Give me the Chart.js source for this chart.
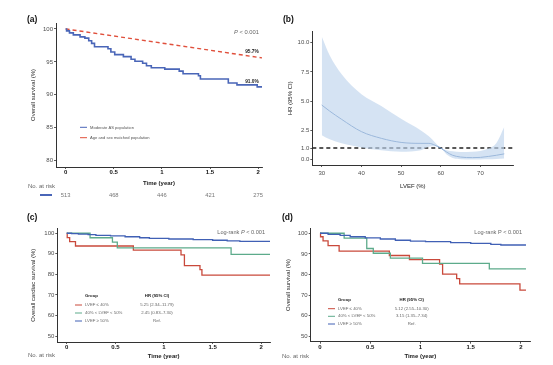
<!DOCTYPE html>
<html><head><meta charset="utf-8">
<script src="https://cdn.jsdelivr.net/npm/chart.js@4.4.1/dist/chart.umd.min.js"></script>
<style>
html,body{margin:0;padding:0;background:#fff;width:553px;height:365px;overflow:hidden}
canvas{position:absolute}
</style></head><body>
<canvas id="ca" width="276" height="200" style="left:0;top:0"></canvas>
<canvas id="cb" width="277" height="200" style="left:276px;top:0"></canvas>
<canvas id="cc" width="276" height="165" style="left:0;top:200px"></canvas>
<canvas id="cd" width="277" height="165" style="left:276px;top:200px"></canvas>
<script>
// ---------- DATA ----------
const timeTicks = [0, 0.5, 1, 1.5, 2];
const timeTickLabels = ['0', '0.5', '1', '1.5', '2'];

// (a)
const aYTicks = [80, 85, 90, 95, 100];
const aModerateT = [0, 0.01, 0.04, 0.08, 0.15, 0.2, 0.24, 0.27, 0.30, 0.44, 0.47, 0.51, 0.60, 0.68, 0.72, 0.80, 0.84, 0.89, 1.03, 1.18, 1.22, 1.38, 1.40, 1.69, 1.78, 1.99, 2.04];
const aModerateS = [100, 99.7, 99.4, 99.1, 98.8, 98.6, 98.2, 97.8, 97.3, 97.0, 96.5, 96.1, 95.8, 95.4, 95.1, 94.8, 94.4, 94.1, 93.9, 93.6, 93.2, 92.9, 92.4, 91.8, 91.5, 91.2, 91.2];
const aMatchedT = [0, 1, 2.04];
const aMatchedS = [100, 97.85, 95.6];
const aRiskCounts = [513, 468, 446, 421, 275];
const aSeriesNames = ['Moderate AS population', 'Age and sex matched population'];

// (b)
const lvef    = [30, 32, 35, 40, 45, 50, 55, 57, 58.5, 60, 61.5, 63, 65, 68, 70, 72, 74, 76];
const hr      = [4.67, 4.15, 3.45, 2.4, 1.83, 1.48, 1.4, 1.4, 1.25, 1.0, 0.65, 0.38, 0.23, 0.18, 0.2, 0.28, 0.38, 0.5];
const hrUpper = [10.5, 8.9, 7.3, 5.6, 4.6, 3.5, 2.5, 2.0, 1.5, 1.0, 0.82, 0.72, 0.66, 0.68, 0.75, 0.95, 1.4, 2.8];
const hrLower = [2.1, 1.75, 1.4, 1.05, 0.8, 0.68, 0.8, 1.1, 1.15, 1.0, 0.45, 0.15, 0.05, 0.03, 0.03, 0.04, 0.06, 0.1];
const bXTicks = [30, 40, 50, 60, 70];
const bYTicks = [0, 1, 2.5, 5, 7.5, 10];
const bYTickLabels = ['0.0', '1.0', '2.5', '5.0', '7.5', '10.0'];

// (c) and (d)
const survTicks = [50, 60, 70, 80, 90, 100];
const groupLabels = ['LVEF \u2264 40%', '40% < LVEF < 50%', 'LVEF \u2265 50%'];
const cLowT  = [0, 0.005, 0.03, 0.09, 0.685, 1.175, 1.21, 1.37, 1.39, 2.09];
const cLowS  = [100, 97.9, 95.9, 93.8, 91.8, 89.5, 84.2, 82.3, 79.6, 79.6];
const cMidT  = [0, 0.24, 0.47, 0.52, 1.69, 2.09];
const cMidS  = [100, 97.8, 95.7, 92.9, 89.7, 89.7];
const cHighT = [0, 0.05, 0.12, 0.22, 0.3, 0.45, 0.6, 0.75, 0.85, 1.05, 1.3, 1.5, 1.65, 1.78, 2.09];
const cHighS = [100, 99.8, 99.6, 99.3, 99.0, 98.7, 98.3, 97.8, 97.5, 97.2, 96.9, 96.6, 96.3, 96.0, 96.0];
const cHR = ['5.25 (2.34\u201311.79)', '2.45 (0.83\u20137.30)', 'Ref.'];

const dLowT  = [0, 0.005, 0.03, 0.08, 0.19, 0.69, 0.89, 1.19, 1.22, 1.36, 1.39, 1.99, 2.05];
const dLowS  = [100, 98.3, 96.3, 94.0, 91.3, 89.2, 87.2, 85.0, 80.2, 78.0, 75.4, 72.4, 72.4];
const dMidT  = [0, 0.24, 0.465, 0.53, 0.70, 1.02, 1.685, 2.05];
const dMidS  = [100, 97.6, 92.6, 90.3, 87.9, 85.4, 82.7, 82.7];
const dHighT = [0, 0.08, 0.2, 0.3, 0.45, 0.6, 0.75, 0.9, 1.05, 1.3, 1.5, 1.7, 1.8, 2.05];
const dHighS = [100, 99.5, 99.0, 98.3, 97.8, 97.2, 96.6, 96.2, 95.9, 95.5, 95.1, 94.6, 94.3, 94.3];
const dHR = ['5.12 (2.55\u201310.30)', '3.15 (1.35\u20137.34)', 'Ref.'];

// ---------- STYLE ----------
const FF = "'Liberation Sans', Arial, Helvetica, sans-serif";
Chart.defaults.font.family = FF;
const RED = '#c9493b', GREEN = '#5dab8b', BLUE = '#4060b5';
const pts = (t, s) => t.map((x, i) => ({x: x, y: s[i]}));

function scale(o) {
  return {
    type: 'linear', min: o.min, max: o.max,
    afterBuildTicks: s => { s.ticks = o.ticks.map(v => ({value: v})); },
    afterFit: s => { if (o.width != null) s.width = o.width; if (o.height != null) s.height = o.height; },
    ticks: {
      autoSkip: false, maxRotation: 0, minRotation: 0, padding: o.tpad != null ? o.tpad : 1,
      color: o.tcolor || '#4d4d4d', font: o.tfont || {size: 6},
      callback: (v, i) => o.labels ? o.labels[i] : String(v)
    },
    grid: {display: true, drawOnChartArea: false, drawTicks: true, tickLength: o.tl != null ? o.tl : 2, color: '#333', lineWidth: 0.8},
    border: {display: true, color: '#333', width: 1},
    title: o.title ? {display: true, text: o.title, color: o.titleColor || '#222', font: o.titleFont || {size: 6}, padding: o.titlePad} : {display: false}
  };
}

const annot = {
  id: 'annot',
  afterDraw(chart, args, opts) {
    const ctx = chart.ctx;
    (opts.items || []).forEach(it => {
      ctx.save();
      if (it.type === 'line') {
        ctx.strokeStyle = it.color; ctx.lineWidth = it.w || 1;
        ctx.beginPath(); ctx.moveTo(it.x1, it.y); ctx.lineTo(it.x2, it.y); ctx.stroke();
      } else {
        const segs = it.segs || [{t: it.text}];
        ctx.textBaseline = 'middle'; ctx.fillStyle = it.color || '#222';
        let widths = segs.map(s => { ctx.font = (s.italic ? 'italic ' : '') + (it.bold ? 'bold ' : '') + it.size + 'px ' + FF; return ctx.measureText(s.t).width; });
        const total = widths.reduce((a, b) => a + b, 0);
        let x = it.x;
        if (it.align === 'right') x -= total; else if (it.align === 'center') x -= total / 2;
        segs.forEach((s, i) => {
          ctx.font = (s.italic ? 'italic ' : '') + (it.bold ? 'bold ' : '') + it.size + 'px ' + FF;
          ctx.textAlign = 'left';
          ctx.fillText(s.t, x, it.y); x += widths[i];
        });
      }
      ctx.restore();
    });
    if (opts.risk) {
      const r = opts.risk, xs = chart.scales.x;
      ctx.save();
      ctx.font = r.size + 'px ' + FF; ctx.fillStyle = r.color; ctx.textAlign = 'center'; ctx.textBaseline = 'middle';
      r.values.forEach((v, i) => ctx.fillText(String(v), xs.getPixelForValue(r.at[i]), r.y));
      ctx.restore();
    }
  }
};

function baseOpts(pad, scales, items, risk) {
  return {
    responsive: false, animation: false, devicePixelRatio: 1,
    layout: {padding: pad},
    plugins: {legend: {display: false}, tooltip: {enabled: false}, annot: {items: items, risk: risk}},
    elements: {point: {radius: 0}},
    scales: scales
  };
}
function km(t, s, color, w) {
  return {data: pts(t, s), stepped: true, borderColor: color, borderWidth: w || 1.3, pointRadius: 0, fill: false, tension: 0};
}
const xTickFont = {size: 6, weight: 'bold'};

// ---------- (a) ----------
new Chart(document.getElementById('ca'), {
  type: 'line',
  data: {datasets: [
    km(aModerateT, aModerateS, '#4a66b8', 1.6),
    {data: pts(aMatchedT, aMatchedS), borderColor: '#e0503c', borderWidth: 1.4, borderDash: [4, 3], pointRadius: 0, fill: false, tension: 0}
  ]},
  options: baseOpts({left: 0, top: 23, right: 14, bottom: 0}, {
    x: scale({min: -0.1, max: 2.04, ticks: timeTicks, labels: timeTickLabels, height: 33, tl: 2, tpad: 0, tcolor: '#111', tfont: xTickFont,
      title: 'Time (year)', titleFont: {size: 6, weight: 'bold'}, titlePad: {bottom: 13.1}}),
    y: scale({min: 79.04, max: 100.9, ticks: aYTicks, width: 56, title: 'Overall survival (%)', titlePad: {top: 29.4}})
  }, [
    {text: '(a)', x: 27, y: 20, size: 8.5, bold: true, color: '#111'},
    {segs: [{t: 'P', italic: true}, {t: ' < 0.001'}], x: 259, y: 32, size: 5.8, color: '#666', align: 'right'},
    {text: '95.7%', x: 252, y: 52, size: 4.8, bold: true, color: '#222', align: 'center'},
    {text: '91.0%', x: 252, y: 82, size: 4.8, bold: true, color: '#222', align: 'center'},
    {type: 'line', x1: 80, x2: 87, y: 127.3, color: '#4a66b8', w: 1},
    {text: aSeriesNames[0], x: 90, y: 127.5, size: 4.1, color: '#555'},
    {type: 'line', x1: 80, x2: 87, y: 137.7, color: '#e0503c', w: 1},
    {text: aSeriesNames[1], x: 90, y: 137.9, size: 4.1, color: '#555'},
    {text: 'No. at risk', x: 28, y: 186, size: 6, color: '#666'},
    {type: 'line', x1: 40, x2: 52, y: 195, color: '#4a66b8', w: 2}
  ], {values: aRiskCounts, at: timeTicks, y: 195, size: 5.8, color: '#777'})
  ,
  plugins: [annot]
});

// ---------- (b) ----------
new Chart(document.getElementById('cb'), {
  type: 'line',
  data: {datasets: [
    {data: pts(lvef, hrLower), borderWidth: 0, borderColor: 'rgba(0,0,0,0)', pointRadius: 0, fill: false, cubicInterpolationMode: 'monotone'},
    {data: pts(lvef, hrUpper), borderWidth: 0, borderColor: 'rgba(0,0,0,0)', pointRadius: 0, fill: '-1', backgroundColor: 'rgba(190,212,236,0.65)', cubicInterpolationMode: 'monotone'},
    {data: pts(lvef, hr), borderWidth: 1, borderColor: '#5a84bb', pointRadius: 0, fill: false, cubicInterpolationMode: 'monotone'},
    {data: [{x: 27.6, y: 1}, {x: 78.3, y: 1}], borderWidth: 1.4, borderColor: '#222', borderDash: [4, 3], pointRadius: 0, fill: false}
  ]},
  options: baseOpts({left: 0, top: 31.7, right: 39.7, bottom: 0}, {
    x: scale({min: 27.6, max: 78.3, ticks: bXTicks, height: 35, tl: 2, tpad: 3, title: 'LVEF (%)', titleFont: {size: 6}, titlePad: {bottom: 9.7}}),
    y: scale({min: -0.45, max: 10.94, ticks: bYTicks, labels: bYTickLabels, width: 36.3, title: 'HR (95% CI)', titlePad: {top: 10.9}})
  }, [
    {text: '(b)', x: 7, y: 20, size: 8.5, bold: true, color: '#111'}
  ]),
  plugins: [annot]
});

function legendItems(x0, xLine, xHR, yHead, rows, hrs) {
  const cols = [RED, GREEN, BLUE];
  const it = [
    {text: 'Group', x: x0, y: yHead, size: 4.3, bold: true, color: '#222'},
    {text: 'HR (95% CI)', x: xHR, y: yHead, size: 4.3, bold: true, color: '#222', align: 'center'}
  ];
  rows.forEach((y, i) => {
    it.push({type: 'line', x1: xLine, x2: xLine + 7, y: y, color: cols[i], w: 1});
    it.push({text: groupLabels[i], x: x0, y: y, size: 4.3, color: '#666'});
    it.push({text: hrs[i], x: xHR, y: y, size: 4.3, color: '#666', align: 'center'});
  });
  return it;
}

// ---------- (c) ----------
new Chart(document.getElementById('cc'), {
  type: 'line',
  data: {datasets: [km(cHighT, cHighS, BLUE), km(cMidT, cMidS, GREEN), km(cLowT, cLowS, RED)]},
  options: baseOpts({left: 0, top: 28.3, right: 6, bottom: 0}, {
    x: scale({min: -0.097, max: 2.09, ticks: timeTicks, labels: timeTickLabels, height: 23, tl: 2, tpad: 0, tcolor: '#111', tfont: xTickFont,
      title: 'Time (year)', titleFont: {size: 6, weight: 'bold'}, titlePad: {bottom: 4.7}}),
    y: scale({min: 47.1, max: 102.4, ticks: survTicks, width: 57.3, title: 'Overall cardiac survival (%)', titlePad: {top: 29.7}})
  }, [
    {text: '(c)', x: 27, y: 18, size: 8.5, bold: true, color: '#111'},
    {segs: [{t: 'Log-rank '}, {t: 'P', italic: true}, {t: ' < 0.001'}], x: 265, y: 32, size: 5.6, color: '#666', align: 'right'},
    {text: 'No. at risk', x: 28, y: 155.5, size: 6, color: '#666'}
  ].concat(legendItems(85, 75, 157, 96, [105, 113, 121], cHR))),
  plugins: [annot]
});

// ---------- (d) ----------
new Chart(document.getElementById('cd'), {
  type: 'line',
  data: {datasets: [km(dHighT, dHighS, BLUE), km(dMidT, dMidS, GREEN), km(dLowT, dLowS, RED)]},
  options: baseOpts({left: 0, top: 28.3, right: 23, bottom: 0}, {
    x: scale({min: -0.093, max: 2.09, ticks: timeTicks, labels: timeTickLabels, height: 23.3, tl: 2, tpad: 0, tcolor: '#111', tfont: xTickFont,
      title: 'Time (year)', titleFont: {size: 6, weight: 'bold'}, titlePad: {bottom: 4.7}}),
    y: scale({min: 47.4, max: 102.4, ticks: survTicks, width: 34.7, title: 'Overall survival (%)', titlePad: {top: 8.7}})
  }, [
    {text: '(d)', x: 6, y: 18, size: 8.5, bold: true, color: '#111'},
    {segs: [{t: 'Log-rank P < 0.001'}], x: 246, y: 32, size: 5.6, color: '#666', align: 'right'},
    {text: 'No. at risk', x: 6, y: 156, size: 6, color: '#666'}
  ].concat(legendItems(62, 52, 135.7, 99.7, [108.7, 116.3, 124], dHR))),
  plugins: [annot]
});
</script>
</body></html>
